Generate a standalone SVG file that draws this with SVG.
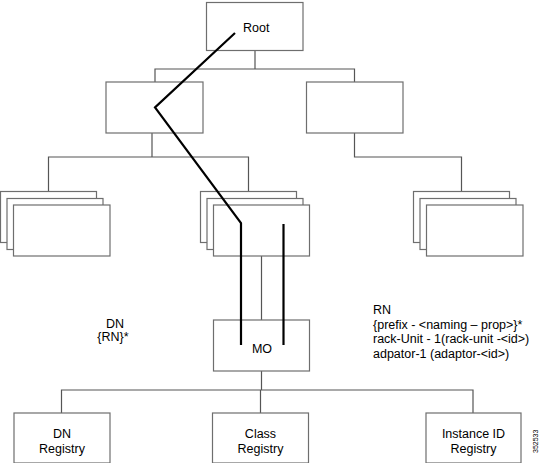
<svg xmlns="http://www.w3.org/2000/svg" width="543" height="463" viewBox="0 0 543 463">
<style>
.box{fill:#fff;stroke:#6e6e6e;stroke-width:1.2}
.ln{fill:none;stroke:#555;stroke-width:1.2}
.path{fill:none;stroke:#000;stroke-width:2.2;stroke-linejoin:miter}
text{font-family:"Liberation Sans",Arial,sans-serif;font-size:12.5px;fill:#000}
.c{text-anchor:middle}
</style>
<rect width="543" height="463" fill="#fff"/>
<g id="connectors">
<path class="ln" d="M255,50V69M155,82V69H354.5V82"/>
<path class="ln" d="M152,133V157M48.5,191V157H248.5V191"/>
<path class="ln" d="M354.5,133V157H461.5V191"/>
<path class="ln" d="M261.5,256V320"/>
<path class="ln" d="M261.5,371V390M61.5,413V390H473V413M260.5,390V413"/>
</g>
<g id="root"><rect class="box" x="206.5" y="2.5" width="96.5" height="48"/><text x="243" y="32">Root</text></g>
<g id="level2-left"><rect class="box" x="106" y="82" width="97" height="51"/></g>
<g id="level2-right"><rect class="box" x="306.5" y="82" width="96.5" height="51"/></g>
<g id="stack-left">
<rect class="box" x="0.5" y="191.5" width="96" height="51"/>
<rect class="box" x="7" y="198.5" width="96" height="51"/>
<rect class="box" x="13.5" y="205" width="96.5" height="51"/>
</g>
<g id="stack-middle">
<rect class="box" x="200.5" y="191.5" width="96" height="51"/>
<rect class="box" x="207" y="198.5" width="96" height="51"/>
<rect class="box" x="213.5" y="205" width="96" height="51"/>
</g>
<g id="stack-right">
<rect class="box" x="413.5" y="191.5" width="96" height="51"/>
<rect class="box" x="420" y="198.5" width="96" height="51"/>
<rect class="box" x="426.5" y="205" width="96.5" height="51"/>
</g>
<g id="mo"><rect class="box" x="213.5" y="320" width="96" height="51"/><text class="c" x="262" y="352.5">MO</text></g>
<g id="dn-registry"><rect class="box" x="14" y="413" width="96" height="50"/><text class="c" x="62" y="438">DN</text><text class="c" x="62" y="453">Registry</text></g>
<g id="class-registry"><rect class="box" x="212.5" y="413" width="96" height="50"/><text class="c" x="260.5" y="438">Class</text><text class="c" x="260.5" y="453">Registry</text></g>
<g id="instance-registry"><rect class="box" x="426" y="413" width="95" height="50"/><text class="c" x="473.5" y="438">Instance ID</text><text class="c" x="473.5" y="453">Registry</text></g>
<g id="path-overlay">
<path class="path" d="M235,33L155,107.5L241,223V345"/>
<path class="path" d="M283.5,224V345"/>
</g>
<g id="labels">
<text class="c" x="115" y="328">DN</text>
<text class="c" x="113" y="341">{RN}*</text>
<text x="373" y="314">RN</text>
<text x="373" y="328.5">{prefix - &lt;naming – prop&gt;}*</text>
<text x="373" y="343">rack-Unit - 1(rack-unit -&lt;id&gt;)</text>
<text x="373" y="357.5">adpator-1 (adaptor-&lt;id&gt;)</text>
<text x="538" y="453" transform="rotate(-90 538 453)" style="font-size:7px">352533</text>
</g>
</svg>
